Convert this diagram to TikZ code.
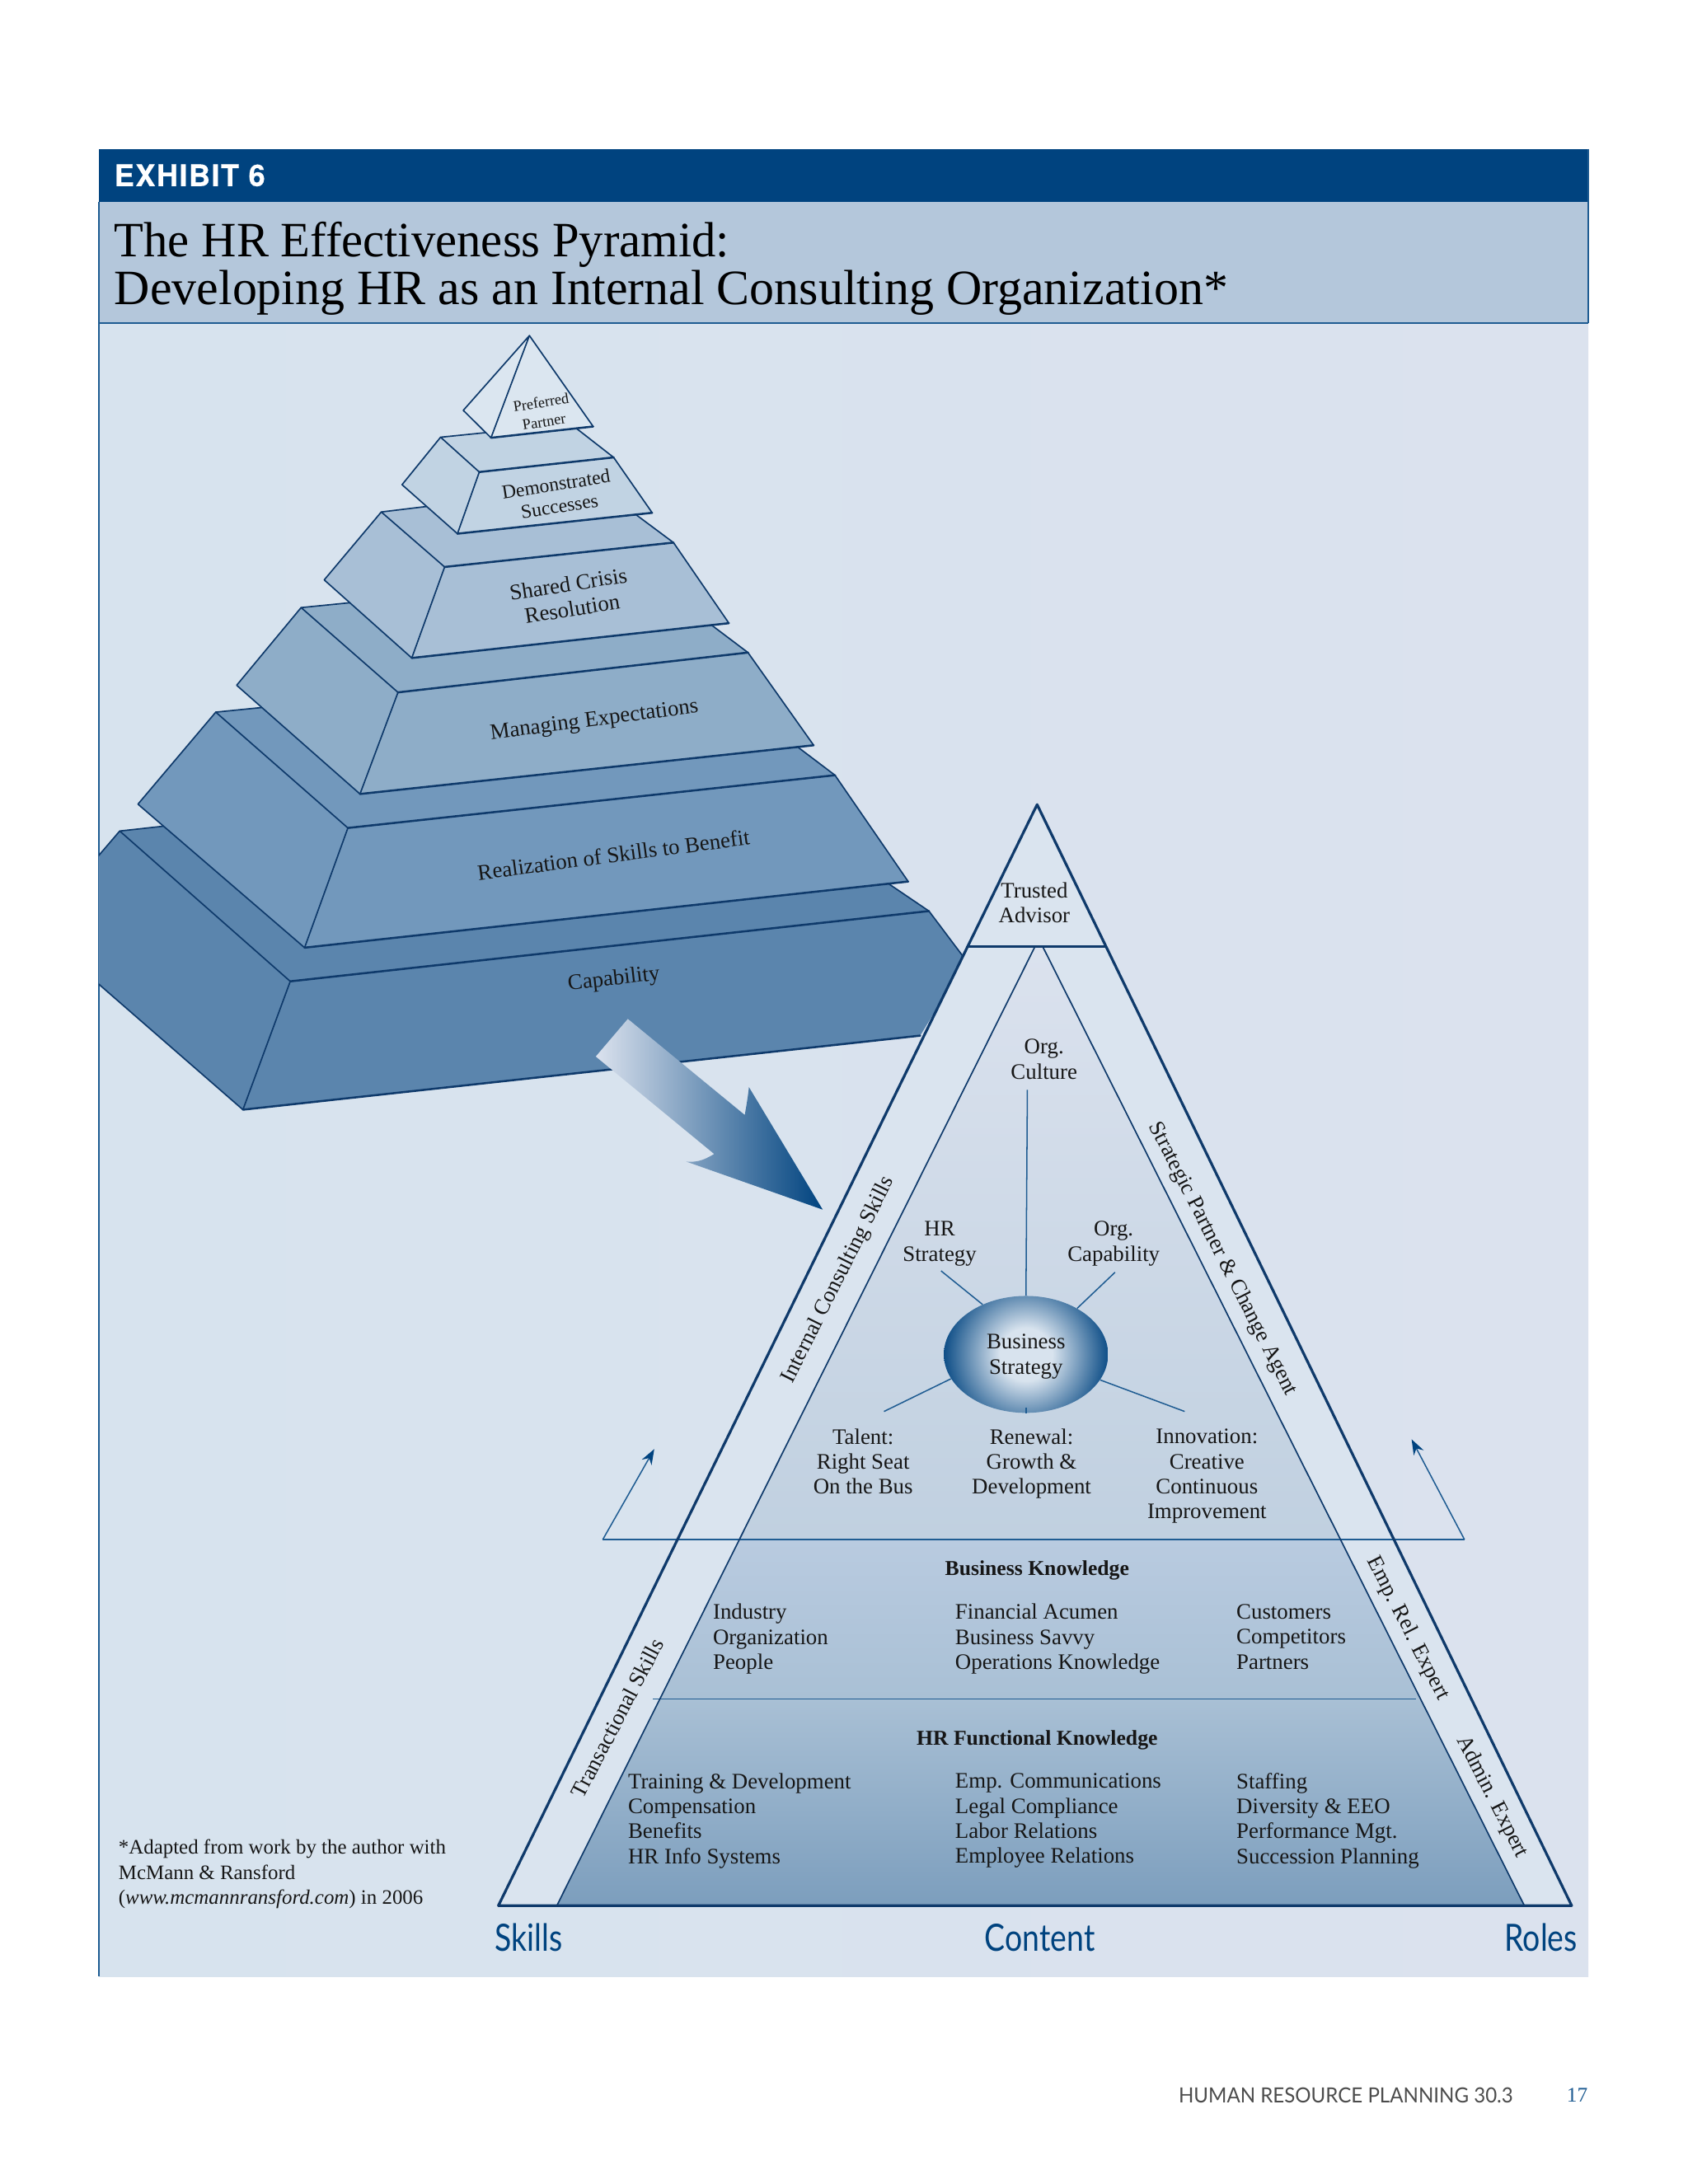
\documentclass[tikz,border=0pt]{standalone}
\usepackage{fontspec}
\usetikzlibrary{arrows.meta,shapes.geometric}
\setmainfont{Liberation Serif}
\newfontfamily\narrowserif[FakeStretch=0.978]{Liberation Serif}
\newfontfamily\hfont[LetterSpace=4,BoldFeatures={FakeBold=0.35}]{TeX Gyre Heros}
\newfontfamily\lfont[FakeStretch=0.82]{Lato}
\newfontfamily\ffont[FakeStretch=0.95]{Lato}
\definecolor{navy}{HTML}{0F3A6B}
\definecolor{blu}{HTML}{00437F}
\definecolor{thinblue}{HTML}{1F5C92}
\definecolor{ink}{HTML}{161616}
\definecolor{band}{HTML}{DAE4EF}
\definecolor{panelleft}{HTML}{D7E3EE}
\definecolor{panelright}{HTML}{DBE2EE}
\definecolor{titleband}{HTML}{B4C7DB}
\definecolor{ballin}{HTML}{D8E3EE}
\definecolor{ballout}{HTML}{0E4E87}
\definecolor{tone}{HTML}{5B85AD}
\definecolor{ttwo}{HTML}{7298BC}
\definecolor{tthree}{HTML}{8EADC8}
\definecolor{tfour}{HTML}{A8BFD6}
\definecolor{tfive}{HTML}{C1D3E3}
\definecolor{tsix}{HTML}{DBE6F0}
\definecolor{shA}{HTML}{C0D0E0}
\definecolor{shB}{HTML}{B9CBE0}
\definecolor{shC}{HTML}{A9C0D5}
\definecolor{shD}{HTML}{7C9EBD}
\pgfdeclareradialshading{ballshade}{\pgfpoint{0bp}{0bp}}{color(0bp)=(ballin); color(8bp)=(ballin); color(25bp)=(ballout); color(50bp)=(ballout)}
\tikzset{
  struts/.style={execute at begin node=\strut,execute at end node=\strut},
  txt/.style={font=\fontsize{15.9}{18}\selectfont,text=ink,align=center,inner sep=0pt,struts},
  lst/.style={font=\fontsize{15.9}{18}\selectfont,text=ink,align=left,inner sep=0pt,anchor=west,struts},
  hd/.style={font=\fontsize{15.2}{18}\selectfont\bfseries,text=ink,align=center,inner sep=0pt,struts},
  foot/.style={font=\lfont\fontsize{27}{30}\selectfont,text=blu,inner sep=0pt},
  edge/.style={draw=navy,line width=1.5pt,line join=round,line cap=round},
  thinedge/.style={draw=navy,line width=1pt,line join=round,line cap=round},
  hair/.style={draw=thinblue,line width=0.9pt},
  tinyhead/.style={-{Stealth[length=11pt,width=8pt,color=blu]}},
}
% #1 fill, #2 backleft, #3 back corner, #4 top right, #5 top front, #6 bottom left, #7 bottom front, #8 bottom right
\newcommand{\tier}[8]{%
  \fill[#1] #2 -- #3 -- #4 -- #5 -- cycle;
  \fill[#1] #2 -- #5 -- #7 -- #6 -- cycle;
  \fill[#1] #5 -- #4 -- #8 -- #7 -- cycle;
  \draw[thinedge] #3 -- #2 -- #5 -- #7;
  \draw[thinedge] #3 -- #4;
  \draw[thinedge] #2 -- #6 -- #7;
  \draw[thinedge] #8 -- #4;
  \draw[edge] #5 -- #4;
  \draw[edge] #7 -- #8;
}
\begin{document}
\begin{tikzpicture}[x=1pt,y=-1pt]
\useasboundingbox (0,0) rectangle (1212.5,1569);
\fill[white] (0,0) rectangle (1212.5,1569);
% panel
\shade[left color=panelleft,right color=panelright] (71,232) rectangle (1141,1420);
\fill[blu] (71,107) rectangle (1141,145);
\fill[titleband] (71,145) rectangle (1141,232);
\draw[hair] (71,145) -- (71,1420);
\draw[hair] (71,232) -- (1141,232);
\draw[hair] (1141,107) -- (1141,232);
\node[font=\hfont\bfseries\fontsize{21.4}{22}\selectfont,text=white,anchor=west,inner sep=0pt] (exh) at (82,126) {EXHIBIT 6};
\node[font=\fontsize{35.5}{34}\selectfont,text=black,anchor=west,align=left,inner sep=0pt] (title) at (82,193) {{\narrowserif The HR Effectiveness Pyramid:}\\Developing HR as an Internal Consulting Organization*};
% stepped pyramid
\begin{scope}
\clip (71,232) rectangle (1141,1420);
\fill[tone] (86,597) -- (513,550) -- (667.3,654.5) -- (208.5,705) -- cycle;
\fill[tone] (86,597) -- (208.5,705) -- (174.5,797.2) -- (25.6,667.5) -- cycle;
\fill[tone] (208.5,705) -- (667.3,654.5) -- (694,690) -- (661,744) -- (174.5,797.2) -- cycle;
\draw[thinedge] (513,550) -- (86,597) -- (208.5,705) -- (174.5,797.2) -- (25.6,667.5) -- (86,597);
\draw[thinedge] (513,550) -- (667.3,654.5) -- (694,690);
\draw[edge] (208.5,705) -- (667.3,654.5);
\draw[edge] (174.5,797.2) -- (661,744);
\tier{ttwo}{(155,511.6)}{(495,477.6)}{(599.8,556.9)}{(249.9,594.8)}{(99.1,577.7)}{(218.8,680.8)}{(652.4,633.3)}
\tier{tthree}{(216.3,436.5)}{(462,412)}{(537.3,468.8)}{(285.9,497.4)}{(170,492.3)}{(258.6,570.4)}{(584.5,535.4)}
\tier{tfour}{(273.9,367.8)}{(429,349)}{(483.8,389.8)}{(319.4,407.3)}{(232.9,416.6)}{(295.8,472.7)}{(523.6,447.7)}
\tier{tfive}{(316.5,314.1)}{(410,304.6)}{(440.8,328.6)}{(344.3,339.1)}{(288.8,348.2)}{(328.6,383.4)}{(468.5,368.4)}
\fill[tsix] (380.3,241.1) -- (332.8,294.8) -- (352.7,314.5) -- (426.1,306.4) -- cycle;
\draw[thinedge] (380.3,241.1) -- (332.8,294.8) -- (352.7,314.5) -- cycle;
\draw[thinedge] (380.3,241.1) -- (426.1,306.4);
\draw[edge] (352.7,314.5) -- (426.1,306.4);
\end{scope}
% pyramid labels
\node[txt,font=\fontsize{10.8}{14}\selectfont,rotate=9] (pp) at (390,298) {Preferred\\Partner};
\node[txt,font=\fontsize{14}{16}\selectfont,rotate=9] (ds) at (401,358) {Demonstrated\\Successes};
\node[txt,rotate=9] (scr) at (410,431) {Shared Crisis\\Resolution};
\node[txt,rotate=7.5] (me) at (427,518) {Managing Expectations};
\node[txt,rotate=7.5] (rs) at (441,616) {Realization of Skills to Benefit};
\node[txt,rotate=6.5] (cap) at (441,704) {Capability};
% big triangle
\coordinate (apex) at (745,578);
\coordinate (bl) at (358,1369);
\coordinate (br) at (1129,1369);
\coordinate (il) at (400,1369);
\coordinate (ir) at (1095,1369);
\coordinate (itl) at (743.5,680);
\coordinate (itr) at (749,680);
\coordinate (tal) at (695,680);
\coordinate (tar) at (794,680);
\fill[band] (apex) -- (bl) -- (br) -- cycle;
% shaded interior
\begin{scope}
\clip (itl) -- (il) -- (ir) -- (itr) -- cycle;
\shade[top color=panelright,bottom color=shA] (380,680) rectangle (1110,1106.5);
\shade[top color=shB,bottom color=shC] (380,1106) rectangle (1110,1220.5);
\shade[top color=shC,bottom color=shD] (380,1220) rectangle (1110,1369);
\end{scope}
% big gradient arrow
\shade[left color=panelright,right color=blu]
  (451,732) -- (428,759) -- (513,829) .. controls (505,834) and (500,835) .. (493,834.5)
  -- (591,869) -- (538,781) .. controls (537,790) and (536,795) .. (535,801) -- cycle;
% lines
\draw[hair] (433,1106) -- (1052,1106);
\draw[hair] (469,1220.5) -- (1017,1220.5);
\coordinate (al) at (433,1106);
\coordinate (ar) at (1052,1106);
\coordinate (alt) at (470,1041);
\coordinate (art) at (1014,1034);
\draw[hair,tinyhead] (al) -- (alt);
\draw[hair,tinyhead] (ar) -- (art);
\draw[thinedge] (itl) -- (il);
\draw[thinedge] (itr) -- (ir);
\draw[edge,line width=1.9pt] (tal) -- (tar);
\draw[edge,line width=1.9pt] (apex) -- (bl) -- (br) -- cycle;
% ellipse
\node[ellipse,minimum width=118pt,minimum height=84pt,inner sep=0pt,
  path picture={\shade[shading=ballshade] (path picture bounding box.center) ++(-59,-59) rectangle ++(118,118);}] (bs) at (737,973) {};
\node[txt] (bst) at (737,975.5) {Business\\Strategy};
\coordinate (cc) at (738,783);
\coordinate (hc) at (676,913);
\coordinate (oc) at (801,914);
\coordinate (tc) at (635,1014);
\coordinate (rc) at (737,1011);
\coordinate (ic) at (851,1014);
\draw[hair] (cc) -- (bs.north);
\draw[hair] (hc) -- (bs.131);
\draw[hair] (oc) -- (bs.42);
\draw[hair] (tc) -- (bs.198);
\draw[hair] (rc) -- (bs.south);
\draw[hair] (ic) -- (bs.341);
\node[txt] (ta) at (743,651) {Trusted\\Advisor};
\node[txt] (oc1) at (750,763.5) {Org.\\Culture};
\node[txt] (hr) at (675,894.5) {HR\\Strategy};
\node[txt] (oc2) at (800,894.5) {Org.\\Capability};
\node[txt] (t1) at (620,1052.5) {Talent:\\Right Seat\\On the Bus};
\node[txt] (t2) at (741,1052.5) {Renewal:\\Growth \&\\Development};
\node[txt] (t3) at (867,1061.5) {Innovation:\\Creative\\Continuous\\Improvement};
\node[hd] (bk) at (745,1128) {Business Knowledge};
\node[hd] (hf) at (745,1250) {HR Functional Knowledge};
\node[lst] (l1) at (512,1178.5) {Industry\\Organization\\People};
\node[lst] (l2) at (686,1178.5) {Financial Acumen\\Business Savvy\\Operations Knowledge};
\node[lst] (l3) at (888,1178.5) {Customers\\Competitors\\Partners};
\node[lst] (l4) at (451,1309) {Training \& Development\\Compensation\\Benefits\\HR Info Systems};
\node[lst] (l5) at (686,1309) {Emp. Communications\\Legal Compliance\\Labor Relations\\Employee Relations};
\node[lst] (l6) at (888,1309) {Staffing\\Diversity \& EEO\\Performance Mgt.\\Succession Planning};
\node[lst,font=\fontsize{14.75}{18}\selectfont] (fn) at (85,1347.5) {*Adapted from work by the author with\\McMann \& Ransford\\(\textit{www.mcmannransford.com}) in 2006};
% side labels
\node[txt,rotate=63.5] (s1) at (602.5,919.5) {Internal Consulting Skills};
\node[txt,rotate=62.5] (s2) at (445,1235) {Transactional Skills};
\node[txt,rotate=-63] (s3) at (878,904.5) {Strategic Partner \& Change Agent};
\node[txt,rotate=-63] (s4) at (1011,1170) {Emp. Rel. Expert};
\node[txt,rotate=-63] (s5) at (1071.5,1291) {Admin. Expert};
\node[foot] (f1) at (380,1392) {Skills};
\node[foot] (f2) at (747,1392) {Content};
\node[foot] (f3) at (1107,1392) {Roles};
\node[font=\ffont\fontsize{15}{18}\selectfont,text=black!70,anchor=west,inner sep=0pt] (pg) at (846.5,1505) {HUMAN RESOURCE PLANNING 30.3};
\node[font=\fontsize{15}{18}\selectfont,text=thinblue,inner sep=0pt] (pn) at (1133,1505) {17};
\end{tikzpicture}
\end{document}
